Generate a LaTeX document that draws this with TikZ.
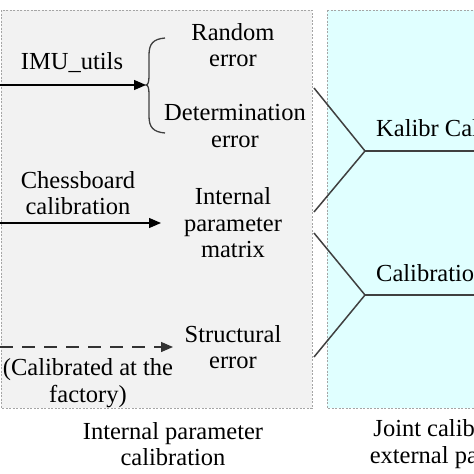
\documentclass[tikz,border=0pt]{standalone}
\usepackage{fontspec}
\setmainfont{Liberation Serif}
\usetikzlibrary{arrows.meta}
\definecolor{boxgray}{RGB}{242,242,242}
\definecolor{boxcyan}{RGB}{224,255,255}
\definecolor{bordergray}{RGB}{165,165,165}
\definecolor{linegray}{RGB}{64,64,64}
\tikzset{
  lbl/.style={font=\fontsize{24.5}{26.5}\selectfont, align=center, inner sep=0pt, text=black},
  panel/.style={draw=bordergray, line width=1pt, dash pattern=on 2pt off 1.5pt},
  arr/.style={line width=1.3pt, -{Triangle[length=12pt,width=10pt]}},
  dasharr/.style={arr, draw=black!80, dash pattern=on 13pt off 9pt},
  yline/.style={draw=linegray, line width=1.5pt},
  bracepath/.style={draw=linegray, line width=1.3pt}
}
\begin{document}
\begin{tikzpicture}[x=1pt,y=-1pt]
\useasboundingbox (0,0) rectangle (474,474);
\clip (0,0) rectangle (474,474);
% panels
\draw[panel, fill=boxgray] (1,10) rectangle (312,408);
\draw[panel, fill=boxcyan] (327,10) rectangle (490,408);
% text nodes
\node[lbl] (imu) at (72,63) {IMU\_utils};
\node[lbl] (random) at (233,45) {Random\\error};
\node[lbl] (determ) at (235,126) {Determination\\error};
\node[lbl] (chess) at (78,193) {Chessboard\\calibration};
\node[lbl] (ipm) at (233,223) {Internal\\parameter\\matrix};
\node[lbl] (struct) at (233,347) {Structural\\error};
\node[lbl] (factory) at (88,383) {(Calibrated at the\\factory)};
\node[lbl] (lab1) at (173,444) {Internal parameter\\calibration};
\node[lbl] (lab2) at (466,444) {Joint calibration of\\external parameters};
\node[lbl, anchor=west] (kalibr) at (376,128) {Kalibr Calibration};
\node[lbl, anchor=west] (calib) at (376,273) {Calibration};
% brace
\coordinate (bracetip) at (146,85);
\draw[bracepath] (165,38) .. controls (153,39) and (149,44) .. (149,55) -- (149,76)
  .. controls (149,82) and (148,85) .. (bracetip)
  .. controls (148,85) and (149,88) .. (149,94) -- (149,116)
  .. controls (149,127) and (153,132) .. (165,133);
% arrows
\coordinate (imuL) at (0,85);
\coordinate (chessL) at (0,223);
\coordinate (factL) at (0,347);
\coordinate (ipmIn) at (161,223);
\coordinate (structIn) at (173,347);
\draw[arr] (imuL) -- (bracetip);
\draw[arr] (chessL) -- (ipmIn);
\draw[dasharr] (factL) -- (structIn);
% Y connectors
\coordinate (ya1) at (314,88);
\coordinate (yapex1) at (365,151);
\coordinate (yb1) at (314,212);
\coordinate (yend1) at (480,151);
\coordinate (ya2) at (314,233);
\coordinate (yapex2) at (365,295);
\coordinate (yb2) at (314,357);
\coordinate (yend2) at (480,295);
\draw[yline] (ya1) -- (yapex1) -- (yb1);
\draw[yline] (yapex1) -- (yend1);
\draw[yline] (ya2) -- (yapex2) -- (yb2);
\draw[yline] (yapex2) -- (yend2);
\end{tikzpicture}
\end{document}
